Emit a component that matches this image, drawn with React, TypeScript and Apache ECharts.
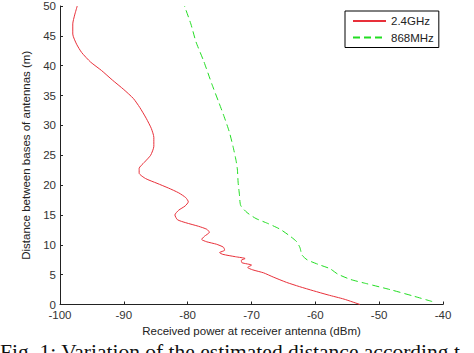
import React, { useEffect, useRef } from "react";
import * as echarts from "echarts";

// Received power (dBm), distance (m)
const seriesNames = ["2.4GHz", "868MHz"];

const power24: number[] = [-53.0, -55.5, -58.0, -60.3, -62.5, -64.5, -66.6, -68.1, -69.8, -70.6, -70.0, -71.5, -71.6, -71.0, -72.5, -74.5, -75.0, -74.2, -74.4, -75.5, -77.0, -77.8, -77.4, -76.6, -77.0, -78.3, -80.3, -81.6, -82.0, -81.4, -80.4, -79.9, -80.3, -81.4, -83.0, -84.8, -86.6, -87.6, -87.6, -86.8, -85.8, -85.3, -85.3, -85.7, -86.5, -87.5, -88.5, -90.0, -91.8, -93.5, -95.2, -96.6, -97.4, -98.0, -98.0, -97.7, -97.3];
const dist24: number[] = [0, 0.9, 1.6, 2.3, 3.0, 3.7, 4.6, 5.3, 5.8, 6.2, 6.6, 7.0, 7.4, 7.7, 8.0, 8.4, 8.7, 9.1, 9.6, 10.1, 10.5, 10.9, 11.4, 12.1, 12.6, 13.1, 13.7, 14.2, 15.0, 15.8, 16.5, 17.2, 17.9, 18.7, 19.5, 20.3, 21.1, 22.0, 22.8, 23.8, 25.0, 26.5, 28.0, 29.5, 31.2, 33.0, 34.5, 36.0, 37.6, 39.2, 40.6, 42.2, 43.6, 45.3, 47.0, 48.5, 50];

const power868: number[] = [-41.7, -44.6, -48.3, -52.0, -54.5, -56.5, -57.7, -59.5, -61.3, -62.1, -62.4, -62.9, -63.9, -65.5, -67.5, -69.3, -70.7, -71.7, -71.9, -72.1, -72.2, -72.4, -72.9, -73.5, -74.3, -75.1, -76.2, -77.5, -78.7, -79.5, -80.5];
const dist868: number[] = [0.5, 1.4, 2.5, 3.5, 4.2, 5.1, 6.0, 6.7, 7.5, 8.3, 9.5, 10.5, 11.4, 12.6, 13.6, 14.4, 15.4, 16.6, 18.5, 20.5, 22.5, 24.0, 26.5, 29.0, 31.5, 33.8, 36.9, 40.8, 44.0, 47.0, 50];

const xTicks = { min: -100, max: -40, interval: 10 };
const yTicks = { min: 0, max: 50, interval: 5 };

const xName = "Received power at receiver antenna (dBm)";
const yName = "Distance between bases of antennas (m)";
const caption = "Fig. 1: Variation of the estimated distance according t";

const FONT = "'Liberation Sans', Arial, sans-serif";

export default function App() {
  const ref = useRef<HTMLDivElement>(null);
  useEffect(() => {
    if (!ref.current) return;
    const chart = echarts.init(ref.current, null, { renderer: "svg" });
    const axisCommon = {
      axisLine: { show: true, lineStyle: { color: "#222", width: 1 } },
      axisTick: { show: true, inside: true, length: 3, lineStyle: { color: "#222" } },
      splitLine: { show: false },
      axisLabel: { color: "#333", fontSize: 11.5, fontFamily: FONT, margin: 4 },
      nameTextStyle: { color: "#222", fontSize: 11.5, fontFamily: FONT },
      nameLocation: "middle" as const,
    };
    chart.setOption({
      animation: false,
      backgroundColor: "#fff",
      grid: { left: 60, top: 5, width: 383, height: 299.5, containLabel: false },
      legend: {
        orient: "vertical",
        left: 345,
        top: 11,
        padding: [4, 5, 4, 7],
        itemGap: 4.5,
        itemWidth: 33,
        itemHeight: 12,
        borderColor: "#000",
        borderWidth: 1,
        backgroundColor: "#fff",
        itemStyle: { opacity: 0 },
        textStyle: { color: "#222", fontSize: 11.5, fontFamily: FONT },
        data: seriesNames,
      },
      xAxis: {
        type: "value",
        ...xTicks,
        ...axisCommon,
        name: xName,
        nameGap: 19,
      },
      yAxis: {
        type: "value",
        ...yTicks,
        ...axisCommon,
        name: yName,
        nameGap: 16,
      },
      graphic: [
        {
          type: "text",
          left: 0,
          top: 341,
          style: {
            text: caption,
            fontFamily: "'Liberation Serif', 'Times New Roman', serif",
            fontSize: 21.5,
            fill: "#111",
          },
        },
      ],
      series: [
        {
          name: seriesNames[0],
          type: "line",
          symbol: "none",
          smooth: 0.2,
          data: power24.map((p, i) => [p, dist24[i]]),
          lineStyle: { color: "#e8303a", width: 1 },
          itemStyle: { color: "#e8303a" },
        },
        {
          name: seriesNames[1],
          type: "line",
          symbol: "none",
          smooth: 0.2,
          data: power868.map((p, i) => [p, dist868[i]]),
          lineStyle: { color: "#22dd22", width: 1, type: [7, 4] },
          itemStyle: { color: "#22dd22" },
        },
      ],
    });
    return () => chart.dispose();
  }, []);
  return (
    <div
      ref={ref}
      style={{ position: "absolute", left: 0, top: 0, width: 474, height: 353, overflow: "hidden", background: "#fff" }}
    />
  );
}
